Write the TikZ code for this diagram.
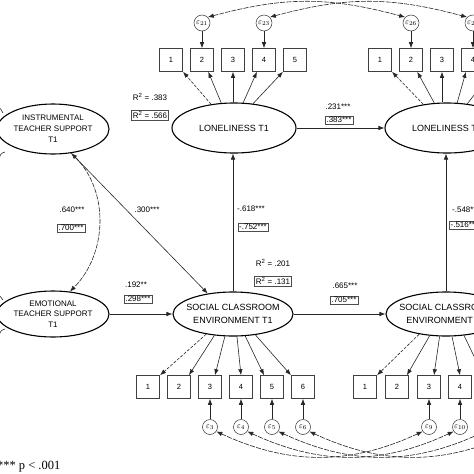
\documentclass[tikz,border=0pt]{standalone}
\usepackage{fontspec}
\setmainfont{Liberation Sans}
\newfontfamily\notefont{Liberation Serif}
\usetikzlibrary{arrows.meta,shapes.geometric}
\begin{document}
\begin{tikzpicture}[x=1pt,y=1pt,
  lat/.style={ellipse,draw,line width=1.1pt,inner sep=0pt},
  lattext/.style={font=\fontsize{9}{13}\selectfont,align=center,inner sep=0pt},
  teachtext/.style={font=\fontsize{8}{11}\selectfont,align=center,inner sep=0pt},
  ind/.style={rectangle,draw=black!75,line width=0.6pt,minimum width=23.5pt,minimum height=23pt,inner sep=0pt,font=\fontsize{7.5}{9}\selectfont},
  err/.style={circle,draw=black!80,line width=0.5pt,minimum size=16pt,inner sep=0pt,font=\fontsize{8.5}{9}\selectfont},
  errb/.style={err,minimum size=15pt},
  arr/.style={draw=black!85,line width=0.6pt,-{Latex[length=6pt,width=4.5pt]}},
  dasharr/.style={arr,dash pattern=on 3pt off 1.5pt},
  cov/.style={draw=black!85,line width=0.6pt,{Latex[length=6pt,width=4.5pt]}-{Latex[length=6pt,width=4.5pt]},dash pattern=on 5pt off 1.2pt},
  coef/.style={font=\fontsize{8}{9}\selectfont,inner sep=1pt},
  coefbox/.style={coef,draw=black!70,line width=0.5pt,inner sep=1.4pt},
]
\useasboundingbox (0,0) rectangle (474,-474);
\clip (0,0) rectangle (474,-474);

% latent variables
\node[lat,minimum width=112pt,minimum height=50pt] (I) at (53,-129) {};
\node[teachtext] (It) at (I) {INSTRUMENTAL\\TEACHER SUPPORT\\T1};
\node[lat,minimum width=112pt,minimum height=46pt] (E) at (53,-314) {};
\node[teachtext,font=\fontsize{8}{10.5}\selectfont] (Et) at (E) {EMOTIONAL\\TEACHER SUPPORT\\T1};
\node[lat,minimum width=124pt,minimum height=50pt] (L1) at (234,-128) {};
\node[lattext] (L1t) at (L1) {LONELINESS T1};
\node[lat,minimum width=124pt,minimum height=50pt] (L2) at (447,-128) {};
\node[lattext] (L2t) at (L2) {LONELINESS T2};
\node[lat,minimum width=120pt,minimum height=44pt] (S1) at (233,-314) {};
\node[lattext] (S1t) at (S1) {SOCIAL CLASSROOM\\ENVIRONMENT T1};
\node[lat,minimum width=120pt,minimum height=44pt] (S2) at (446,-314) {};
\node[lattext] (S2t) at (S2) {SOCIAL CLASSROOM\\ENVIRONMENT T2};

% indicators
\foreach \i/\x in {1/171,2/202,3/233,4/264,5/295} \node[ind] (la\i) at (\x,-60) {\i};
\foreach \i/\x in {1/380,2/411,3/442,4/473,5/504} \node[ind] (lb\i) at (\x,-60) {\i};
\foreach \i/\x in {1/148,2/179,3/210,4/241,5/272,6/303} \node[ind] (sa\i) at (\x,-387) {\i};
\foreach \i/\x in {1/365,2/397,3/429,4/460,5/491,6/522} \node[ind] (sb\i) at (\x,-387) {\i};

% error terms
\node[err] (e21) at (202,-23) {$\varepsilon_{21}$};
\node[err] (e23) at (264,-23) {$\varepsilon_{23}$};
\node[err] (e26) at (411,-23) {$\varepsilon_{26}$};
\node[err] (e28) at (473,-23) {$\varepsilon_{28}$};
\draw[arr] (e21) -- (la2);
\draw[arr] (e23) -- (la4);
\draw[arr] (e26) -- (lb2);
\draw[arr] (e28) -- (lb4);
\foreach \i/\x/\b in {3/210/sa3,4/241/sa4,5/272/sa5,6/303/sa6,9/429/sb3,10/460/sb4,11/491/sb5,12/522/sb6}{
  \node[errb] (e\i) at (\x,-427) {$\varepsilon_{\i}$};
  \draw[arr] (e\i) -- (\b);
}

% loadings loneliness
\draw[dasharr] (L1.134) -- (la1.south east);
\draw[arr] (L1.117) -- (la2.-62);
\draw[arr] (la3.south |- L1.north) -- (la3.south);
\draw[arr] (L1.70) -- (la4.-121);
\draw[arr] (L1.52) -- (la5.south west);
\draw[dasharr] (L2.135) -- (lb1.south east);
\draw[arr] (L2.117) -- (lb2.-62);
\draw[arr] (lb3.south |- L2.north) -- (lb3.south);
\draw[arr] (L2.68) -- (lb4.-121);
\draw[arr] (L2.50) -- (lb5.south west);

% loadings social classroom
\draw[dasharr] (S1.-143) -- (sa1.north east);
\draw[arr] (S1.-131) -- (sa2.50);
\draw[arr] (S1.-110) -- (sa3.67);
\draw[arr] (S1.-80) -- (sa4.north);
\draw[arr] (S1.-61) -- (sa5.124);
\draw[arr] (S1.-43) -- (sa6.north west);
\draw[dasharr] (S2.-143) -- (sb1.north east);
\draw[arr] (S2.-127) -- (sb2.50);
\draw[arr] (S2.-106) -- (sb3.67);
\draw[arr] (S2.-75) -- (sb4.north);
\draw[arr] (S2.-50) -- (sb5.124);
\draw[arr] (S2.-35) -- (sb6.north west);

% residual covariances
\draw[cov] (e21.45) .. controls +(15:80) and +(165:80) .. (e26.135);
\draw[cov] (e23.45) .. controls +(15:80) and +(165:80) .. (e28.135);
\draw[cov] (e3.-35) .. controls +(-25:80) and +(-155:80) .. (e9.-145);
\draw[cov] (e4.-35) .. controls +(-25:80) and +(-155:80) .. (e10.-145);
\draw[cov] (e5.-35) .. controls +(-25:80) and +(-155:80) .. (e11.-145);
\draw[cov] (e6.-35) .. controls +(-25:80) and +(-155:80) .. (e12.-145);

% structural paths
\draw[cov] (I.-53) .. controls +(-45:55) and +(45:52) .. (E.53);
\draw[arr] (I.-53) -- (S1.141);
\draw[arr] (E.east) -- (S1.west);
\draw[arr] (S1.north) -- (S1.north |- L1.south);
\draw[arr] (S2.north) -- (S2.north |- L2.south);
\draw[arr] (L1.east) -- (L2.west);
\draw[arr] (S1.east) -- (S2.west);

% fragments of paths leaving the picture on the left
\draw[draw=black!85,line width=0.6pt] (-3,-106) .. controls (0,-108) and (2,-110) .. (3,-113);
\draw[draw=black!85,line width=0.6pt] (5,-152) .. controls (1,-153) and (0,-155) .. (-1,-158);
\draw[draw=black!85,line width=0.6pt] (-3,-294) .. controls (0,-296) and (2,-298) .. (3,-300);
\draw[draw=black!85,line width=0.6pt] (5,-329) .. controls (1,-330) and (0,-332) .. (-1,-335);

% coefficients
\node[coef] (c640) at (72,-210) {.640***};
\node[coefbox] (c700) at (71,-228) {.700***};
\node[coef] (c300) at (147,-210) {.300***};
\node[coef] (c192) at (136,-285) {.192**};
\node[coefbox] (c298) at (138,-299) {.298***};
\node[coef] (c618) at (251,-209) {-.618***};
\node[coefbox] (c752) at (253,-227) {-.752***};
\node[coef] (r201) at (273,-263) {R\textsuperscript{2} = .201};
\node[coefbox] (r131) at (273,-281) {R\textsuperscript{2} = .131};
\node[coef] (r383) at (150,-97) {R\textsuperscript{2} = .383};
\node[coefbox] (r566) at (150,-115) {R\textsuperscript{2} = .566};
\node[coef] (c231) at (338,-107) {.231***};
\node[coefbox] (c383) at (339,-120) {.383***};
\node[coef] (c665) at (345,-286) {.665***};
\node[coefbox] (c705) at (344,-300) {.705***};
\node[coef,anchor=west] (c548) at (451,-210) {-.548***};
\node[coefbox,anchor=west] (c516) at (449,-225) {-.516***};

% note
\node[anchor=east,font=\notefont\fontsize{12.5}{14}\selectfont,inner sep=0pt] (note) at (60.5,-467) {*** p < .001};
\end{tikzpicture}
\end{document}
